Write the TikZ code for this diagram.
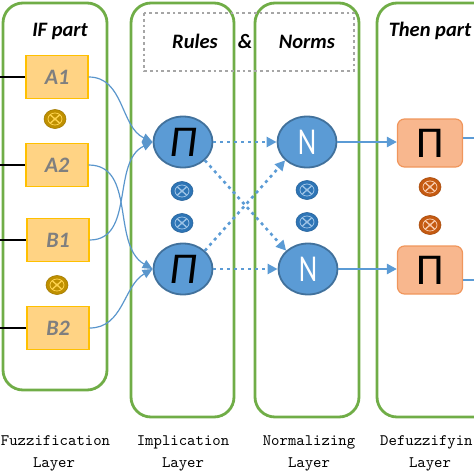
\documentclass[tikz,border=0pt]{standalone}
\usepackage{fontspec}
\usepackage{graphicx}
\setmainfont{Carlito}
\newfontfamily\monofont{lmmono10-regular.otf}
\usetikzlibrary{arrows.meta,shapes.geometric}
\definecolor{pgreen}{HTML}{70AD47}
\definecolor{yfill}{HTML}{FFD384}
\definecolor{yborder}{HTML}{FFC000}
\definecolor{bfill}{HTML}{5B9BD5}
\definecolor{bdraw}{HTML}{41719C}
\definecolor{bline}{HTML}{5A96CC}
\definecolor{ofill}{HTML}{F8B78E}
\definecolor{oborder}{HTML}{F0965C}
\definecolor{graytext}{HTML}{7F7F7F}
\definecolor{framegray}{HTML}{A6A6A6}
\definecolor{ydark}{HTML}{BF9000}
\definecolor{ylight}{HTML}{FFD34D}
\definecolor{bdark}{HTML}{2E75B6}
\definecolor{blight}{HTML}{9DC3E6}
\definecolor{odark}{HTML}{C55A11}
\definecolor{olight}{HTML}{F8CBAD}
\newcommand\ringx[4]{%
  \node[ellipse, fill=#3, draw=#3!85!black, line width=0.6pt, minimum width=22pt, minimum height=19pt, inner sep=0pt] (#1) at (#2) {};
  \draw[#4, line width=0.8pt] (#1.center) ellipse (7pt and 6pt);
  \draw[#4, line width=1.3pt] ([shift={(-4.5,-4)}]#1.center) -- ([shift={(4.5,4)}]#1.center)
        ([shift={(-4.5,4)}]#1.center) -- ([shift={(4.5,-4)}]#1.center);
}
\begin{document}
\begin{tikzpicture}[x=1pt,y=-1pt,
  panel/.style={draw=pgreen, line width=2.8pt, rounded corners=20pt},
  ybox/.style={draw=yborder, fill=yfill, line width=1.2pt, minimum width=62pt, minimum height=43pt, inner sep=0pt,
     font=\fontsize{22}{22}\selectfont\bfseries\itshape, text=graytext},
  bell/.style={ellipse, draw=bdraw, fill=bfill, line width=1.8pt, minimum width=59pt, minimum height=51pt, inner sep=0pt},
  obox/.style={draw=oborder, fill=ofill, line width=1.2pt, rounded corners=7pt, minimum width=65pt, minimum height=48pt, inner sep=0pt,
     font=\fontsize{44}{44}\selectfont},
  head/.style={font=\fontsize{20.5}{20.5}\selectfont\bfseries\itshape, anchor=base, inner sep=0pt},
  lab/.style={font=\monofont\fontsize{16}{22}\selectfont, anchor=base, inner sep=0pt},
  curve/.style={draw=bline, line width=1.2pt, -{Triangle[length=10pt,width=9pt]}},
  dotarrow/.style={draw=bfill, line width=2.6pt, dash pattern=on 3pt off 4pt, -{Triangle[length=10pt,width=10pt]}},
  solarrow/.style={draw=bfill, line width=2.6pt, -{Triangle[length=10pt,width=10pt]}},
  feed/.style={draw=black, line width=1.1pt},
]
\useasboundingbox (0,0) rectangle (474,474);
\clip (0,0) rectangle (474,474);

% panels
\draw[panel] (3,3) rectangle (107,390);
\draw[panel] (131,3) rectangle (234,417);
\draw[panel] (255,3) rectangle (359,417);
\draw[panel] (377,3) rectangle (520,417);

% dotted rules & norms frame
\draw[framegray, line width=2.8pt, dash pattern=on 2.8pt off 3pt] (144,13) rectangle (354,71);

% headers
\node[head] (hif) at (60,36) {IF part};
\node[head] (hrules) at (195,48) {Rules};
\node[head] (hamp) at (245,48) {\&};
\node[head] (hnorms) at (307,48) {Norms};
\node[head] (hthen) at (430,36) {Then part};

% fuzzification boxes
\node[ybox] (A1) at (57,77) {A1};
\node[ybox] (A2) at (57,165) {A2};
\node[ybox] (B1) at (58,240) {B1};
\node[ybox] (B2) at (58,328) {B2};

% inputs
\coordinate (iA1) at (0,77);
\coordinate (iA2) at (0,165);
\coordinate (iB1) at (0,240);
\coordinate (iB2) at (0,328);
\draw[feed] (iA1) -- (A1.west);
\draw[feed] (iA2) -- (A2.west);
\draw[feed] (iB1) -- (B1.west);
\draw[feed] (iB2) -- (B2.west);

% implication and normalizing nodes
\node[bell] (P1) at (183,142) {\fontsize{44}{44}\selectfont\itshape Π};
\node[bell] (P2) at (183,269) {\fontsize{44}{44}\selectfont\itshape Π};
\node[bell] (N1) at (307,142) {\textcolor{white}{\scalebox{0.75}[1]{\fontsize{38}{38}\selectfont N}}};
\node[bell] (N2) at (308,269) {\textcolor{white}{\scalebox{0.75}[1]{\fontsize{38}{38}\selectfont N}}};

% then part
\node[obox] (T1) at (430,143) {Π};
\node[obox] (T2) at (430,270) {Π};

% otimes symbols
\ringx{ya}{55,119}{ydark}{ylight}
\ringx{yb}{57,285}{ydark}{ylight}
\ringx{pa}{182,191}{bdark}{blight}
\ringx{pb}{182,223}{bdark}{blight}
\ringx{na}{307,190}{bdark}{blight}
\ringx{nb}{307,222}{bdark}{blight}
\ringx{oa}{430,187}{odark}{olight}
\ringx{ob}{430,225}{odark}{olight}

% curves from fuzzification to implication
\draw[curve] (A1.east) to[out=0,in=155] (P1.west);
\draw[curve] (B1.east) to[out=0,in=205] (P1.west);
\draw[curve] (A2.east) to[out=0,in=150] (P2.west);
\draw[curve] (B2.east) to[out=0,in=210] (P2.west);

% dotted arrows
\draw[dotarrow] (P1.east) -- (N1.west);
\draw[dotarrow] (P2.east) -- (N2.west);
\draw[dotarrow] (P1.-40) -- (N2.140);
\draw[dotarrow] (P2.40) -- (N1.-140);

% solid arrows
\draw[solarrow] (N1.east) -- (N1.east -| T1.west);
\draw[solarrow] (N2.east) -- (N2.east -| T2.west);

% outputs
\coordinate (o1) at (480,138);
\coordinate (o2) at (480,280);
\draw[draw=bfill, line width=2.6pt] (T1.east |- o1) -- (o1);
\draw[draw=bfill, line width=2.6pt] (T2.east |- o2) -- (o2);

% layer labels
\node[lab] (l1) at (55.5,445) {Fuzzification};
\node[lab] (l1b) at (54,467) {Layer};
\node[lab] (l2) at (183,445) {Implication};
\node[lab] (l2b) at (183,467) {Layer};
\node[lab] (l3) at (309,445) {Normalizing};
\node[lab] (l3b) at (309,467) {Layer};
\node[lab, anchor=base west] (l4) at (380,445) {Defuzzifyin};
\node[lab] (l4b) at (430,467) {Layer};
\end{tikzpicture}
\end{document}
